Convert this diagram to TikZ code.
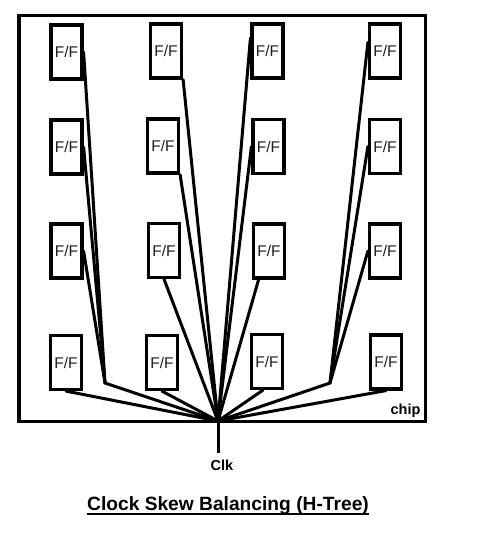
\documentclass[tikz,border=0pt]{standalone}
\usepackage{fontspec}
\setmainfont{Liberation Sans}
\usetikzlibrary{calc}
\begin{document}
\begin{tikzpicture}[x=1pt,y=-1pt,
  ff/.style={draw,line width=3.2pt,minimum width=31pt,minimum height=54pt,inner sep=0pt,
    font=\fontsize{15.5}{16}\selectfont,text=black!88},
  wire/.style={line width=3pt,line cap=round,line join=round},
  lbl/.style={font=\bfseries\fontsize{14.5}{15}\selectfont,inner sep=0pt,anchor=base}]
\useasboundingbox (0,0) rectangle (480,538);
% chip outline
\node[draw,line width=3.3pt,minimum width=406.5pt,minimum height=406pt,inner sep=0pt] (chip) at (222.25,218.5) {};
\node[lbl] (chiplbl) at (405.5,414.5) {chip};
% flip-flops
\node[ff] (f11) at (66.5,52) {F/F};
\node[ff] (f12) at (166,51) {F/F};
\node[ff] (f13) at (267.5,51) {F/F};
\node[ff] (f14) at (385,51) {F/F};
\node[ff] (f21) at (66.5,147) {F/F};
\node[ff] (f22) at (163,146) {F/F};
\node[ff] (f23) at (268.5,146.5) {F/F};
\node[ff] (f24) at (385,146.5) {F/F};
\node[ff] (f31) at (66.5,251) {F/F};
\node[ff] (f32) at (164,250.5) {F/F};
\node[ff] (f33) at (269,251) {F/F};
\node[ff] (f34) at (385,251) {F/F};
\node[ff] (f41) at (66,362.5) {F/F};
\node[ff] (f42) at (162,362.5) {F/F};
\node[ff] (f43) at (267,361.5) {F/F};
\node[ff] (f44) at (386,362) {F/F};
% junctions
\coordinate (root) at (218,421);
\coordinate (jl) at (105,383);
\coordinate (jr) at (330,383);
\coordinate (clkend) at (218,452.5);
% wires
\draw[wire] (f11.east) -- (jl);
\draw[wire] (f21.east) -- (jl);
\draw[wire] (f31.east) -- (jl);
\draw[wire] (jl) -- (root);
\draw[wire] (f41.south) -- (root);
\draw[wire] (f12.south east) -- (root);
\draw[wire] (f22.south east) -- (root);
\draw[wire] (f32.south) -- (root);
\draw[wire] (f42.south) -- (root);
\draw[wire] (f13.143) -- (root);
\draw[wire] (f23.west) -- (root);
\draw[wire] (f33.250) -- (root);
\draw[wire] (f43.262) -- (root);
\draw[wire] (f14.153) -- (jr);
\draw[wire] (f24.west) -- (jr);
\draw[wire] (f34.west) -- (jr);
\draw[wire] (jr) -- (root);
\draw[wire] (f44.south) -- (root);
\draw[wire,line cap=butt] (root) -- (clkend);
% labels
\node[lbl] (clk) at (222,470) {Clk};
\node[font=\bfseries\fontsize{19.2}{20}\selectfont,inner sep=0pt,anchor=base] (title) at (228,510.7)
  {\setbox0\hbox{Clock Skew Balancing (H-Tree)}\rlap{\rule[-4pt]{\wd0}{2pt}}\box0};
\end{tikzpicture}
\end{document}
